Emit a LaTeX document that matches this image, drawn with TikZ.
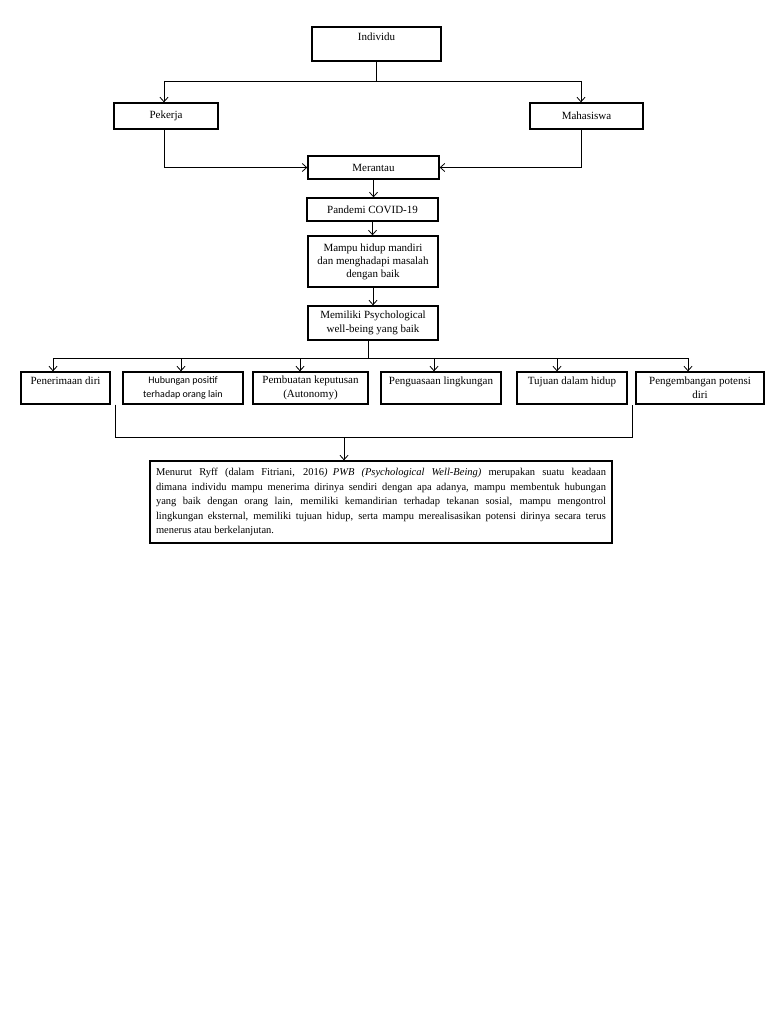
\documentclass[tikz,border=0pt]{standalone}
\usepackage{fontspec}
\setmainfont{Liberation Serif}
\newfontfamily\calfont{Carlito}
\usetikzlibrary{arrows.meta}
\begin{document}
\begin{tikzpicture}[x=1pt,y=-1pt,
  box/.style={draw,line width=1.3pt,inner sep=0pt,font=\fontsize{11}{13}\selectfont},
  conn/.style={line width=0.8pt},
  arr/.style={conn,-{Straight Barb[length=4.5pt,width=8pt]}}]
\useasboundingbox[fill=white] (0,0) rectangle (768,1024);
% top part
\node[box,minimum width=129pt,text height=14pt,text depth=20pt] (ind) at (376.5,44) {Individu};
\node[box,minimum width=104pt,minimum height=26pt] (pek) at (166,116) {Pekerja};
\node[box,minimum width=113pt,minimum height=26pt] (mah) at (586.5,116) {Mahasiswa};
\node[box,minimum width=131pt,minimum height=23pt] (mer) at (373.5,167.5) {Merantau};
\node[box,minimum width=131pt,minimum height=23pt] (pan) at (372.5,209.5) {Pandemi COVID-19};
\node[box,minimum width=130pt,minimum height=51pt,align=center] (mam) at (373,261.5) {Mampu hidup mandiri\\dan menghadapi masalah\\dengan baik};
\node[box,minimum width=130pt,minimum height=34pt,align=center,font=\fontsize{11}{14}\selectfont] (mem) at (373,323) {Memiliki Psychological\\well-being yang baik};
\coordinate (tj) at (376.5,81);
\coordinate (tl) at (164,81);
\coordinate (tr) at (581,81);
\draw[conn] (ind.south) -- (tj);
\draw[conn] (tl) -- (tr);
\draw[arr] (tl) -- (tl |- pek.north);
\draw[arr] (tr) -- (tr |- mah.north);
\draw[arr] (tl |- pek.south) -- (tl |- mer.west) -- (mer.west);
\draw[arr] (tr |- mah.south) -- (tr |- mer.east) -- (mer.east);
\draw[arr] (mer.south) -- (mer.south |- pan.north);
\draw[arr] (pan.south) -- (pan.south |- mam.north);
\draw[arr] (mam.south) -- (mam.south |- mem.north);
% aspects row
\node[box,minimum width=89pt,text height=12pt,text depth=20pt] (pen) at (65.5,388) {Penerimaan diri};
\node[box,minimum width=120pt,minimum height=32pt,align=center,font=\calfont\fontsize{10}{14}\selectfont] (hub) at (183,388) {Hubungan positif\\terhadap orang lain};
\node[box,minimum width=115pt,minimum height=32pt,align=center,font=\fontsize{11}{14}\selectfont] (pem) at (310.5,388) {Pembuatan keputusan\\(Autonomy)};
\node[box,minimum width=120pt,text height=12pt,text depth=20pt] (pgl) at (441,388) {Penguasaan lingkungan};
\node[box,minimum width=110pt,text height=12pt,text depth=20pt] (tuj) at (572,388) {Tujuan dalam hidup};
\node[box,minimum width=128pt,minimum height=32pt,align=center,font=\fontsize{11}{14}\selectfont] (pot) at (700,388) {Pengembangan potensi\\diri};
\coordinate (bm) at (368,358);
\coordinate (b1) at (53,358);
\coordinate (b2) at (181,358);
\coordinate (b3) at (300,358);
\coordinate (b4) at (434,358);
\coordinate (b5) at (557,358);
\coordinate (b6) at (688,358);
\draw[conn] (bm |- mem.south) -- (bm);
\draw[conn] (b1) -- (b6);
\draw[arr] (b1) -- (b1 |- pen.north);
\draw[arr] (b2) -- (b2 |- hub.north);
\draw[arr] (b3) -- (b3 |- pem.north);
\draw[arr] (b4) -- (b4 |- pgl.north);
\draw[arr] (b5) -- (b5 |- tuj.north);
\draw[arr] (b6) -- (b6 |- pot.north);
% bracket and description
\node[box,minimum width=462pt,minimum height=82pt,text width=450pt,align=justify,font=\fontsize{10.5}{14.5}\selectfont] (txt) at (381,502) {Menurut Ryff (dalam Fitriani, 2016\textit{)}\enspace\textit{PWB (Psychological Well-Being)} merupakan suatu keadaan\linebreak dimana individu mampu menerima dirinya sendiri dengan apa adanya, mampu membentuk hubungan\linebreak yang baik dengan orang lain, memiliki kemandirian terhadap tekanan sosial, mampu mengontrol\linebreak lingkungan eksternal, memiliki tujuan hidup, serta mampu merealisasikan potensi dirinya secara terus\linebreak menerus atau berkelanjutan.};
\coordinate (bl) at (115,437);
\coordinate (br) at (632,437);
\coordinate (bc) at (344,437);
\draw[conn] (bl |- pen.south) -- (bl) -- (br) -- (br |- pen.south);
\draw[arr] (bc) -- (bc |- txt.north);
\end{tikzpicture}
\end{document}
